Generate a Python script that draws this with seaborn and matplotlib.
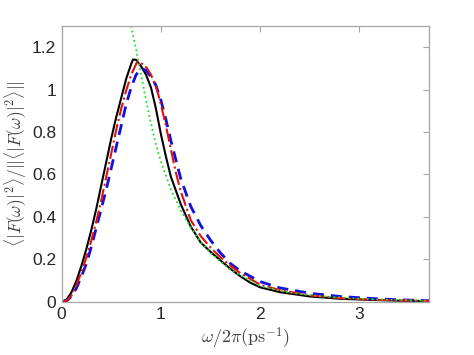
import numpy as np
import pandas as pd
import matplotlib
matplotlib.use("Agg")
import matplotlib.pyplot as plt
import seaborn as sns

# ---- data ----
x_black = [0, 0.05, 0.1, 0.15, 0.2, 0.25, 0.3, 0.35, 0.4, 0.45, 0.5, 0.55, 0.6, 0.65, 0.7, 0.72,
           0.75, 0.8, 0.85, 0.9, 0.95, 1.0, 1.05, 1.1, 1.2, 1.3, 1.4, 1.5, 1.6, 1.7, 1.8, 1.9, 2.0,
           2.2, 2.5, 2.8, 3.1, 3.4, 3.7]
y_black = [0, 0.01, 0.045, 0.10, 0.17, 0.25, 0.34, 0.44, 0.55, 0.66, 0.77, 0.87, 0.96, 1.05, 1.12, 1.142,
           1.14, 1.11, 1.07, 1.01, 0.91, 0.79, 0.685, 0.59, 0.46, 0.355, 0.28, 0.235, 0.195, 0.155, 0.12, 0.09, 0.068,
           0.045, 0.025, 0.014, 0.009, 0.005, 0.003]

x_red = [0, 0.05, 0.1, 0.15, 0.2, 0.25, 0.3, 0.35, 0.4, 0.45, 0.5, 0.55, 0.6, 0.65, 0.7, 0.76,
         0.82, 0.86, 0.9, 0.96, 1.0, 1.05, 1.1, 1.15, 1.2, 1.3, 1.4, 1.5, 1.6, 1.7, 1.8, 2.0,
         2.2, 2.5, 2.8, 3.1, 3.4, 3.7]
y_red = [0, 0.005, 0.03, 0.08, 0.14, 0.21, 0.29, 0.38, 0.48, 0.59, 0.70, 0.81, 0.91, 0.995, 1.07, 1.13,
         1.12, 1.10, 1.07, 1.00, 0.93, 0.83, 0.72, 0.61, 0.52, 0.385, 0.31, 0.255, 0.21, 0.17, 0.135, 0.08,
         0.055, 0.03, 0.017, 0.01, 0.006, 0.004]

x_blue = [0, 0.05, 0.1, 0.15, 0.2, 0.25, 0.3, 0.35, 0.4, 0.45, 0.5, 0.55, 0.6, 0.65, 0.7, 0.75,
          0.8, 0.85, 0.9, 0.95, 1.0, 1.05, 1.1, 1.2, 1.3, 1.4, 1.5, 1.6, 1.7, 1.8, 2.0,
          2.2, 2.5, 2.8, 3.1, 3.4, 3.7]
y_blue = [0, 0.004, 0.025, 0.065, 0.12, 0.18, 0.26, 0.35, 0.44, 0.53, 0.63, 0.73, 0.83, 0.93, 1.01, 1.07,
          1.10, 1.09, 1.06, 1.02, 0.95, 0.86, 0.76, 0.58, 0.45, 0.36, 0.29, 0.23, 0.18, 0.145, 0.095,
          0.065, 0.04, 0.025, 0.016, 0.009, 0.005]

x_green = [0.70, 0.75, 0.80, 0.85, 0.90, 0.95, 1.0, 1.1, 1.2, 1.3, 1.4, 1.5, 1.7, 2.0, 2.3, 2.6,
           3.0, 3.4, 3.7]
y_green = [1.30, 1.19, 1.07, 0.95, 0.84, 0.74, 0.66, 0.53, 0.43, 0.35, 0.28, 0.23, 0.15, 0.075, 0.043, 0.026,
           0.014, 0.008, 0.005]

xticks = [0, 1, 2, 3]
yticks = [0, 0.2, 0.4, 0.6, 0.8, 1.0, 1.2]
ytick_labels = ["0", "0.2", "0.4", "0.6", "0.8", "1", "1.2"]

sns.set_style("white")
plt.rcParams["font.family"] = ["Liberation Sans", "DejaVu Sans"]
plt.rcParams["mathtext.fontset"] = "cm"

fig = plt.figure(figsize=(4.74, 3.55), dpi=100)
ax = fig.add_axes([0.130, 0.150, 0.775, 0.777])

sns.lineplot(x=x_black, y=y_black, ax=ax, color="black", lw=1.5, sort=False)
sns.lineplot(x=x_blue, y=y_blue, ax=ax, color="#1010e0", lw=2.0, sort=False, linestyle=(0, (4, 2.5)))
sns.lineplot(x=x_red, y=y_red, ax=ax, color="#e01010", lw=1.5, sort=False, linestyle="-.")
sns.lineplot(x=x_green, y=y_green, ax=ax, color="#22dd22", lw=1.3, sort=False, linestyle=":")

ax.set_xlim(0, 3.7)
ax.set_ylim(0, 1.3)
ax.set_xticks(xticks)
ax.set_xticklabels([str(t) for t in xticks])
ax.set_yticks(yticks)
ax.set_yticklabels(ytick_labels)

for s in ax.spines.values():
    s.set_color("#a6a6a6")
    s.set_linewidth(0.9)
ax.tick_params(direction="in", length=4, width=0.8, color="#a6a6a6",
               top=True, right=True, labelsize=12.5, labelcolor="#262626", pad=4)

ax.set_xlabel(r"$\omega/2\pi(\mathrm{ps}^{-1})$", fontsize=13, color="#404040", labelpad=2)
ax.set_ylabel(r"$\langle|F(\omega)|^2\rangle/||\langle|F(\omega)|^2\rangle||$", fontsize=12.5,
              color="#404040", labelpad=2)

fig.savefig("out.png", dpi=100)
